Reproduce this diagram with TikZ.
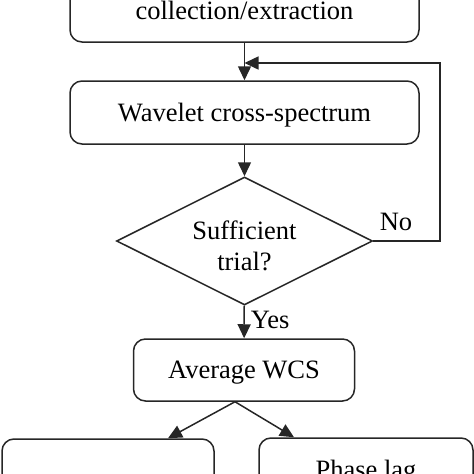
\documentclass[tikz,border=0pt]{standalone}
\usepackage{fontspec}
\setmainfont{Liberation Serif}
\usepackage{tikz}
\usetikzlibrary{arrows.meta,shapes.geometric,positioning,calc}
\tikzset{
  fcbox/.style={
    rectangle, rounded corners=12pt, draw=black!85, fill=white, line width=1.5pt,
    minimum height=63pt, inner sep=2pt, text depth=0pt, font=\fcfont
  },
  fcdecision/.style={
    diamond, draw=black!85, fill=white, line width=1.5pt, aspect=2,
    minimum width=256pt, minimum height=128pt, inner sep=0pt,
    align=center, text height=58pt, text depth=0pt, font=\fcfont
  },
  fcedge/.style={-{Triangle[length=14pt,width=13pt]},line width=1.5pt,draw=black!85},
  fclabel/.style={font=\fcfont,inner sep=6pt}
}
\newcommand{\fcfont}{\fontsize{26.5}{31}\selectfont}

\begin{document}
\begin{tikzpicture}[x=1pt,y=-1pt]
  \useasboundingbox (0,0) rectangle (474,474);
  \node[fcbox,minimum width=349pt,minimum height=64pt] (collect) at (244.5,10) {collection/extraction};
  \node[fcbox,minimum width=349pt] (wcs) at (244.5,112.5) {Wavelet cross-spectrum};
  \node[fcdecision] (check) at (244.5,241) {Sufficient\\trial?};
  \node[fcbox,minimum width=221pt,minimum height=62pt] (avg) at (244,370) {Average WCS};
  \node[fcbox,minimum width=212pt] (left) at (108,470.5) {};
  \node[fcbox,minimum width=214pt] (phase) at (366,469.5) {Phase lag};
  \coordinate (join) at (244.5,63);
  \coordinate (noturn) at (440,63);
  % main chain
  \draw[fcedge] (collect) -- (wcs);
  \draw[fcedge] (wcs) -- (check);
  \draw[fcedge] (check) -- node[fclabel,right,pos=0.45] {Yes} (avg);
  % repeat loop
  \draw[fcedge] (check.east) -| (noturn) -- (join);
  \node[fclabel] (nolabel) at (396,222) {No};
  % split into the two results
  \draw[fcedge] ([xshift=-9pt]avg.south) -- ([xshift=60pt]left.north);
  \draw[fcedge] ([xshift=-9pt]avg.south) -- ([xshift=-72pt]phase.north);
\end{tikzpicture}
\end{document}
